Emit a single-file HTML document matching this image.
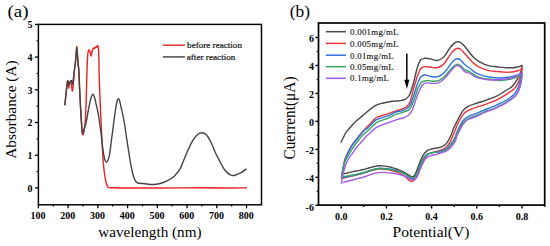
<!DOCTYPE html>
<html><head><meta charset="utf-8"><style>
html,body{margin:0;padding:0;background:#fff;width:550px;height:246px;overflow:hidden;}
svg{display:block;font-family:"Liberation Serif",serif;}
text{font-family:"Liberation Serif",serif;}
.r{fill:#111;stroke:#111;stroke-width:0.22px;}
.r2{fill:#111;stroke:#111;stroke-width:0.12px;}
</style></head><body>
<svg width="550" height="246" viewBox="0 0 550 246">
<rect width="550" height="246" fill="#fff"/>
<rect x="38.40" y="24.40" width="223.10" height="180.40" fill="none" stroke="#000" stroke-width="1.45"/>
<line x1="35.00" y1="187.90" x2="38.40" y2="187.90" stroke="#000" stroke-width="1.3"/>
<text x="32.50" y="191.80" font-size="10" font-weight="bold" text-anchor="end">0</text>
<line x1="35.00" y1="155.20" x2="38.40" y2="155.20" stroke="#000" stroke-width="1.3"/>
<text x="32.50" y="159.10" font-size="10" font-weight="bold" text-anchor="end">1</text>
<line x1="35.00" y1="122.50" x2="38.40" y2="122.50" stroke="#000" stroke-width="1.3"/>
<text x="32.50" y="126.40" font-size="10" font-weight="bold" text-anchor="end">2</text>
<line x1="35.00" y1="89.80" x2="38.40" y2="89.80" stroke="#000" stroke-width="1.3"/>
<text x="32.50" y="93.70" font-size="10" font-weight="bold" text-anchor="end">3</text>
<line x1="35.00" y1="57.10" x2="38.40" y2="57.10" stroke="#000" stroke-width="1.3"/>
<text x="32.50" y="61.00" font-size="10" font-weight="bold" text-anchor="end">4</text>
<line x1="35.00" y1="24.40" x2="38.40" y2="24.40" stroke="#000" stroke-width="1.3"/>
<text x="32.50" y="28.30" font-size="10" font-weight="bold" text-anchor="end">5</text>
<line x1="36.60" y1="171.55" x2="38.40" y2="171.55" stroke="#000" stroke-width="1.2"/>
<line x1="36.60" y1="138.85" x2="38.40" y2="138.85" stroke="#000" stroke-width="1.2"/>
<line x1="36.60" y1="106.15" x2="38.40" y2="106.15" stroke="#000" stroke-width="1.2"/>
<line x1="36.60" y1="73.45" x2="38.40" y2="73.45" stroke="#000" stroke-width="1.2"/>
<line x1="36.60" y1="40.75" x2="38.40" y2="40.75" stroke="#000" stroke-width="1.2"/>
<line x1="38.40" y1="204.80" x2="38.40" y2="208.30" stroke="#000" stroke-width="1.3"/>
<text x="38.10" y="218.60" font-size="10" font-weight="bold" text-anchor="middle">100</text>
<line x1="68.13" y1="204.80" x2="68.13" y2="208.30" stroke="#000" stroke-width="1.3"/>
<text x="67.83" y="218.60" font-size="10" font-weight="bold" text-anchor="middle">200</text>
<line x1="97.87" y1="204.80" x2="97.87" y2="208.30" stroke="#000" stroke-width="1.3"/>
<text x="97.57" y="218.60" font-size="10" font-weight="bold" text-anchor="middle">300</text>
<line x1="127.60" y1="204.80" x2="127.60" y2="208.30" stroke="#000" stroke-width="1.3"/>
<text x="127.30" y="218.60" font-size="10" font-weight="bold" text-anchor="middle">400</text>
<line x1="157.34" y1="204.80" x2="157.34" y2="208.30" stroke="#000" stroke-width="1.3"/>
<text x="157.04" y="218.60" font-size="10" font-weight="bold" text-anchor="middle">500</text>
<line x1="187.08" y1="204.80" x2="187.08" y2="208.30" stroke="#000" stroke-width="1.3"/>
<text x="186.78" y="218.60" font-size="10" font-weight="bold" text-anchor="middle">600</text>
<line x1="216.81" y1="204.80" x2="216.81" y2="208.30" stroke="#000" stroke-width="1.3"/>
<text x="216.51" y="218.60" font-size="10" font-weight="bold" text-anchor="middle">700</text>
<line x1="246.55" y1="204.80" x2="246.55" y2="208.30" stroke="#000" stroke-width="1.3"/>
<text x="246.25" y="218.60" font-size="10" font-weight="bold" text-anchor="middle">800</text>
<line x1="53.27" y1="204.80" x2="53.27" y2="206.40" stroke="#000" stroke-width="1.2"/>
<line x1="83.00" y1="204.80" x2="83.00" y2="206.40" stroke="#000" stroke-width="1.2"/>
<line x1="112.74" y1="204.80" x2="112.74" y2="206.40" stroke="#000" stroke-width="1.2"/>
<line x1="142.47" y1="204.80" x2="142.47" y2="206.40" stroke="#000" stroke-width="1.2"/>
<line x1="172.21" y1="204.80" x2="172.21" y2="206.40" stroke="#000" stroke-width="1.2"/>
<line x1="201.94" y1="204.80" x2="201.94" y2="206.40" stroke="#000" stroke-width="1.2"/>
<line x1="231.68" y1="204.80" x2="231.68" y2="206.40" stroke="#000" stroke-width="1.2"/>
<text transform="translate(18.07,17.19) scale(1.1916,1.0432)" font-size="16" font-weight="normal" text-anchor="middle" fill="#000">(a)</text>
<text transform="translate(149.89,236.54) scale(1.0135,1.0114)" font-size="15" font-weight="normal" text-anchor="middle" fill="#000">wavelength (nm)</text>
<text transform="translate(15.94,109.61) scale(1.0221,1.0230) rotate(-90)" font-size="15" font-weight="normal" text-anchor="middle" fill="#000">Absorbance (A)</text>
<line x1="162.9" y1="45.2" x2="184.9" y2="45.2" stroke="#ec2424" stroke-width="1.4"/>
<line x1="162.9" y1="56.9" x2="184.9" y2="56.9" stroke="#555" stroke-width="1.6"/>
<text transform="translate(214.51,48.30) scale(0.9815)" font-size="9.3" text-anchor="middle" class="r">before reaction</text>
<text transform="translate(211.09,59.60) scale(0.9896)" font-size="9.3" text-anchor="middle" class="r">after reaction</text>
<path d="M64.90,105.20 C65.10,103.17 65.65,97.03 66.10,93.00 C66.55,88.97 67.18,81.83 67.60,81.00 C68.02,80.17 68.28,87.67 68.60,88.00 C68.92,88.33 69.13,84.17 69.50,83.00 C69.87,81.83 70.45,80.50 70.80,81.00 C71.15,81.50 71.33,84.30 71.60,86.00 C71.87,87.70 72.12,91.37 72.40,91.20 C72.68,91.03 72.97,88.45 73.30,85.00 C73.63,81.55 74.10,73.75 74.40,70.50 C74.70,67.25 74.87,67.50 75.10,65.50 C75.33,63.50 75.59,60.83 75.80,58.50 C76.01,56.17 76.18,53.53 76.35,51.50 C76.52,49.47 76.65,46.30 76.80,46.30 C76.95,46.30 77.08,49.47 77.25,51.50 C77.42,53.53 77.61,56.08 77.80,58.50 C77.99,60.92 78.20,63.92 78.40,66.00 C78.60,68.08 78.80,67.20 79.00,71.00 C79.20,74.80 79.27,81.47 79.60,88.80 C79.93,96.13 80.53,107.50 81.00,115.00 C81.47,122.50 81.90,131.13 82.40,133.80 C82.90,136.47 83.48,133.63 84.00,131.00 C84.52,128.37 85.07,125.67 85.50,118.00 C85.93,110.33 86.28,94.67 86.60,85.00 C86.92,75.33 87.13,65.58 87.40,60.00 C87.67,54.42 87.85,53.15 88.20,51.50 C88.55,49.85 89.15,49.85 89.50,50.10 C89.85,50.35 90.02,52.03 90.30,53.00 C90.58,53.97 90.88,56.23 91.20,55.90 C91.52,55.57 91.92,52.17 92.20,51.00 C92.48,49.83 92.67,49.37 92.90,48.90 C93.13,48.43 93.38,48.25 93.60,48.20 C93.82,48.15 93.98,48.75 94.20,48.60 C94.42,48.45 94.67,47.43 94.90,47.30 C95.13,47.17 95.37,47.93 95.60,47.80 C95.83,47.67 96.08,46.65 96.30,46.50 C96.52,46.35 96.70,47.07 96.90,46.90 C97.10,46.73 97.28,45.48 97.50,45.50 C97.72,45.52 97.98,45.42 98.20,47.00 C98.42,48.58 98.62,49.50 98.80,55.00 C98.98,60.50 99.02,70.83 99.30,80.00 C99.58,89.17 100.02,99.17 100.50,110.00 C100.98,120.83 101.70,135.83 102.20,145.00 C102.70,154.17 103.03,159.67 103.50,165.00 C103.97,170.33 104.50,173.83 105.00,177.00 C105.50,180.17 105.95,182.28 106.50,184.00 C107.05,185.72 107.38,186.67 108.30,187.30 C109.22,187.93 108.38,187.68 112.00,187.80 C115.62,187.92 122.00,187.97 130.00,188.00 C138.00,188.03 148.33,188.03 160.00,188.00 C171.67,187.97 188.33,187.80 200.00,187.80 C211.67,187.80 222.20,188.00 230.00,188.00 C237.80,188.00 244.00,187.83 246.80,187.80" fill="none" stroke="#ec2222" stroke-width="1.4" stroke-linejoin="round"/>
<path d="M64.90,105.20 C65.10,103.17 65.65,97.03 66.10,93.00 C66.55,88.97 67.10,82.33 67.60,81.00 C68.10,79.67 68.65,84.92 69.10,85.00 C69.55,85.08 69.88,82.23 70.30,81.50 C70.72,80.77 71.22,80.18 71.60,80.60 C71.98,81.02 72.13,85.77 72.60,84.00 C73.07,82.23 73.98,73.17 74.40,70.00 C74.82,66.83 74.87,67.00 75.10,65.00 C75.33,63.00 75.59,60.25 75.80,58.00 C76.01,55.75 76.19,53.27 76.35,51.50 C76.51,49.73 76.62,47.40 76.75,47.40 C76.88,47.40 77.01,49.73 77.15,51.50 C77.29,53.27 77.44,55.75 77.60,58.00 C77.76,60.25 77.92,63.00 78.10,65.00 C78.28,67.00 78.45,66.03 78.70,70.00 C78.95,73.97 79.22,81.30 79.60,88.80 C79.98,96.30 80.53,107.63 81.00,115.00 C81.47,122.37 81.87,130.67 82.40,133.00 C82.93,135.33 83.65,130.50 84.20,129.00 C84.75,127.50 85.23,125.83 85.70,124.00 C86.17,122.17 86.58,120.17 87.00,118.00 C87.42,115.83 87.78,113.25 88.20,111.00 C88.62,108.75 89.03,106.67 89.50,104.50 C89.97,102.33 90.45,99.72 91.00,98.00 C91.55,96.28 92.20,94.28 92.80,94.20 C93.40,94.12 94.03,95.78 94.60,97.50 C95.17,99.22 95.63,102.02 96.20,104.50 C96.77,106.98 97.40,109.15 98.00,112.40 C98.60,115.65 99.22,119.90 99.80,124.00 C100.38,128.10 100.97,132.67 101.50,137.00 C102.03,141.33 102.50,146.42 103.00,150.00 C103.50,153.58 104.02,156.53 104.50,158.50 C104.98,160.47 105.40,161.38 105.90,161.80 C106.40,162.22 106.90,162.13 107.50,161.00 C108.10,159.87 108.75,159.17 109.50,155.00 C110.25,150.83 111.28,141.50 112.00,136.00 C112.72,130.50 113.20,126.50 113.80,122.00 C114.40,117.50 115.03,112.50 115.60,109.00 C116.17,105.50 116.75,102.73 117.20,101.00 C117.65,99.27 117.92,98.68 118.30,98.60 C118.68,98.52 119.00,98.93 119.50,100.50 C120.00,102.07 120.52,104.42 121.30,108.00 C122.08,111.58 123.32,117.00 124.20,122.00 C125.08,127.00 125.63,131.67 126.60,138.00 C127.57,144.33 129.10,154.58 130.00,160.00 C130.90,165.42 131.33,167.50 132.00,170.50 C132.67,173.50 133.25,176.05 134.00,178.00 C134.75,179.95 135.58,181.32 136.50,182.20 C137.42,183.08 138.42,183.08 139.50,183.30 C140.58,183.52 141.75,183.38 143.00,183.50 C144.25,183.62 145.40,183.83 147.00,184.00 C148.60,184.17 150.40,184.58 152.60,184.50 C154.80,184.42 157.65,184.18 160.20,183.50 C162.75,182.82 165.85,181.35 167.90,180.40 C169.95,179.45 171.23,178.72 172.50,177.80 C173.77,176.88 174.23,176.40 175.50,174.90 C176.77,173.40 178.83,170.98 180.10,168.80 C181.37,166.62 181.83,164.80 183.10,161.80 C184.37,158.80 186.17,154.22 187.70,150.80 C189.23,147.38 190.78,143.90 192.30,141.30 C193.82,138.70 195.28,136.62 196.80,135.20 C198.32,133.78 199.87,132.90 201.40,132.80 C202.93,132.70 204.48,133.18 206.00,134.60 C207.52,136.02 208.98,138.40 210.50,141.30 C212.02,144.20 213.57,148.68 215.10,152.00 C216.63,155.32 218.07,158.15 219.70,161.20 C221.33,164.25 223.12,168.02 224.90,170.30 C226.68,172.58 228.73,174.07 230.40,174.90 C232.07,175.73 233.13,175.68 234.90,175.30 C236.67,174.92 239.05,173.68 241.00,172.60 C242.95,171.52 245.67,169.43 246.60,168.80" fill="none" stroke="#444" stroke-width="1.4" stroke-linejoin="round"/>
<rect x="318.50" y="23.00" width="226.20" height="182.10" fill="none" stroke="#000" stroke-width="1.7"/>
<line x1="315.40" y1="205.28" x2="318.50" y2="205.28" stroke="#000" stroke-width="1.4"/>
<text x="313.90" y="210.90" font-size="10" font-weight="bold" text-anchor="end">-6</text>
<line x1="315.40" y1="177.32" x2="318.50" y2="177.32" stroke="#000" stroke-width="1.4"/>
<text x="313.90" y="182.12" font-size="10" font-weight="bold" text-anchor="end">-4</text>
<line x1="315.40" y1="149.36" x2="318.50" y2="149.36" stroke="#000" stroke-width="1.4"/>
<text x="313.90" y="154.16" font-size="10" font-weight="bold" text-anchor="end">-2</text>
<line x1="315.40" y1="121.40" x2="318.50" y2="121.40" stroke="#000" stroke-width="1.4"/>
<text x="313.90" y="126.20" font-size="10" font-weight="bold" text-anchor="end">0</text>
<line x1="315.40" y1="93.44" x2="318.50" y2="93.44" stroke="#000" stroke-width="1.4"/>
<text x="313.90" y="98.24" font-size="10" font-weight="bold" text-anchor="end">2</text>
<line x1="315.40" y1="65.48" x2="318.50" y2="65.48" stroke="#000" stroke-width="1.4"/>
<text x="313.90" y="70.28" font-size="10" font-weight="bold" text-anchor="end">4</text>
<line x1="315.40" y1="37.52" x2="318.50" y2="37.52" stroke="#000" stroke-width="1.4"/>
<text x="313.90" y="42.32" font-size="10" font-weight="bold" text-anchor="end">6</text>
<line x1="316.70" y1="191.30" x2="318.50" y2="191.30" stroke="#000" stroke-width="1.3"/>
<line x1="316.70" y1="163.34" x2="318.50" y2="163.34" stroke="#000" stroke-width="1.3"/>
<line x1="316.70" y1="135.38" x2="318.50" y2="135.38" stroke="#000" stroke-width="1.3"/>
<line x1="316.70" y1="107.42" x2="318.50" y2="107.42" stroke="#000" stroke-width="1.3"/>
<line x1="316.70" y1="79.46" x2="318.50" y2="79.46" stroke="#000" stroke-width="1.3"/>
<line x1="316.70" y1="51.50" x2="318.50" y2="51.50" stroke="#000" stroke-width="1.3"/>
<line x1="341.20" y1="205.10" x2="341.20" y2="208.50" stroke="#000" stroke-width="1.4"/>
<text x="341.20" y="219.50" font-size="10" font-weight="bold" text-anchor="middle">0.0</text>
<line x1="386.40" y1="205.10" x2="386.40" y2="208.50" stroke="#000" stroke-width="1.4"/>
<text x="386.40" y="219.50" font-size="10" font-weight="bold" text-anchor="middle">0.2</text>
<line x1="431.60" y1="205.10" x2="431.60" y2="208.50" stroke="#000" stroke-width="1.4"/>
<text x="431.60" y="219.50" font-size="10" font-weight="bold" text-anchor="middle">0.4</text>
<line x1="476.80" y1="205.10" x2="476.80" y2="208.50" stroke="#000" stroke-width="1.4"/>
<text x="476.80" y="219.50" font-size="10" font-weight="bold" text-anchor="middle">0.6</text>
<line x1="522.00" y1="205.10" x2="522.00" y2="208.50" stroke="#000" stroke-width="1.4"/>
<text x="522.00" y="219.50" font-size="10" font-weight="bold" text-anchor="middle">0.8</text>
<line x1="363.80" y1="205.10" x2="363.80" y2="206.90" stroke="#000" stroke-width="1.3"/>
<line x1="409.00" y1="205.10" x2="409.00" y2="206.90" stroke="#000" stroke-width="1.3"/>
<line x1="454.20" y1="205.10" x2="454.20" y2="206.90" stroke="#000" stroke-width="1.3"/>
<line x1="499.40" y1="205.10" x2="499.40" y2="206.90" stroke="#000" stroke-width="1.3"/>
<line x1="544.60" y1="205.10" x2="544.60" y2="206.90" stroke="#000" stroke-width="1.3"/>
<text transform="translate(299.79,17.25) scale(1.0868,1.0290)" font-size="16" font-weight="normal" text-anchor="middle" fill="#000">(b)</text>
<text transform="translate(431.01,236.74) scale(1.0374,1.0117)" font-size="15" font-weight="normal" text-anchor="middle" fill="#000">Potential(V)</text>
<text transform="translate(294.94,118.03) scale(1.0628,1.0208) rotate(-90)" font-size="15" font-weight="normal" text-anchor="middle" fill="#000">Cuerrent(μA)</text>
<line x1="325.8" y1="31.70" x2="345.9" y2="31.70" stroke="#474747" stroke-width="1.5"/>
<line x1="325.8" y1="43.40" x2="345.9" y2="43.40" stroke="#ec3237" stroke-width="1.5"/>
<line x1="325.8" y1="55.20" x2="345.9" y2="55.20" stroke="#2e73dc" stroke-width="1.5"/>
<line x1="325.8" y1="66.70" x2="345.9" y2="66.70" stroke="#36a463" stroke-width="1.5"/>
<line x1="325.8" y1="78.30" x2="345.9" y2="78.30" stroke="#a25ae6" stroke-width="1.5"/>
<text x="350.0" y="35.10" font-size="8.8" letter-spacing="0.3" class="r2">0.001mg/mL</text>
<text x="350.0" y="46.95" font-size="8.8" letter-spacing="0.3" class="r2">0.005mg/mL</text>
<text x="350.0" y="58.50" font-size="8.8" letter-spacing="0.3" class="r2">0.01mg/mL</text>
<text x="350.0" y="69.90" font-size="8.8" letter-spacing="0.3" class="r2">0.05mg/mL</text>
<text x="350.0" y="81.15" font-size="8.8" letter-spacing="0.3" class="r2">0.1mg/mL</text>
<line x1="406.8" y1="53.6" x2="406.8" y2="81" stroke="#000" stroke-width="1.5"/>
<path d="M404.3,79.8 L409.4,79.8 L406.85,89 Z" fill="#000"/>
<path d="M341.00,142.20 C341.42,141.38 342.78,138.75 343.50,137.30 C344.22,135.85 344.58,134.67 345.30,133.50 C346.02,132.33 346.77,131.55 347.80,130.30 C348.83,129.05 350.28,127.38 351.50,126.00 C352.72,124.62 353.28,123.68 355.10,122.00 C356.92,120.32 359.97,117.93 362.40,115.90 C364.83,113.87 367.47,111.55 369.70,109.80 C371.93,108.05 373.72,106.48 375.80,105.40 C377.88,104.32 379.43,103.98 382.20,103.30 C384.97,102.62 390.10,101.67 392.40,101.30 C394.70,100.93 394.58,101.22 396.00,101.10 C397.42,100.98 399.38,100.88 400.90,100.60 C402.42,100.32 403.88,100.02 405.10,99.40 C406.32,98.78 407.38,97.82 408.20,96.90 C409.02,95.98 409.50,94.95 410.00,93.90 C410.50,92.85 410.88,91.55 411.20,90.60 C411.52,89.65 411.48,89.60 411.90,88.20 C412.32,86.80 413.18,84.10 413.70,82.20 C414.22,80.30 414.53,78.75 415.00,76.80 C415.47,74.85 415.95,72.53 416.50,70.50 C417.05,68.47 417.60,66.38 418.30,64.60 C419.00,62.82 419.68,60.85 420.70,59.80 C421.72,58.75 423.18,58.52 424.40,58.30 C425.62,58.08 426.72,58.32 428.00,58.50 C429.28,58.68 430.40,59.08 432.10,59.40 C433.80,59.72 436.17,60.90 438.20,60.40 C440.23,59.90 442.27,58.60 444.30,56.40 C446.33,54.20 448.70,49.42 450.40,47.20 C452.10,44.98 453.32,44.02 454.50,43.10 C455.68,42.18 456.48,41.80 457.50,41.70 C458.52,41.60 459.42,41.75 460.60,42.50 C461.78,43.25 463.03,44.42 464.60,46.20 C466.17,47.98 468.37,51.22 470.00,53.20 C471.63,55.18 472.93,56.73 474.40,58.10 C475.87,59.47 477.10,60.37 478.80,61.40 C480.50,62.43 482.65,63.52 484.60,64.30 C486.55,65.08 488.27,65.65 490.50,66.10 C492.73,66.55 495.73,66.75 498.00,67.00 C500.27,67.25 502.07,67.47 504.10,67.60 C506.13,67.73 508.17,67.87 510.20,67.80 C512.23,67.73 514.67,67.43 516.30,67.20 C517.93,66.97 519.03,66.68 520.00,66.40 C520.97,66.12 521.75,65.65 522.10,65.50 M522.10,65.50 C521.95,66.35 521.77,68.73 521.20,70.60 C520.63,72.47 519.65,74.80 518.70,76.70 C517.75,78.60 516.62,80.37 515.50,82.00 C514.38,83.63 512.92,85.50 512.00,86.50 C511.08,87.50 511.20,87.22 510.00,88.00 C508.80,88.78 506.53,90.12 504.80,91.20 C503.07,92.28 501.33,93.52 499.60,94.50 C497.87,95.48 496.13,96.35 494.40,97.10 C492.67,97.85 490.93,98.35 489.20,99.00 C487.47,99.65 486.15,100.28 484.00,101.00 C481.85,101.72 478.93,102.42 476.30,103.30 C473.67,104.18 470.40,105.12 468.20,106.30 C466.00,107.48 464.45,108.88 463.10,110.40 C461.75,111.92 461.12,113.55 460.10,115.40 C459.08,117.25 458.08,119.37 457.00,121.50 C455.92,123.63 454.67,125.73 453.60,128.20 C452.53,130.67 451.78,133.77 450.60,136.30 C449.42,138.83 448.03,141.63 446.50,143.40 C444.97,145.17 443.10,146.13 441.40,146.90 C439.70,147.67 438.00,147.62 436.30,148.00 C434.60,148.38 432.70,148.77 431.20,149.20 C429.70,149.63 428.47,149.85 427.30,150.60 C426.13,151.35 425.10,152.53 424.20,153.70 C423.30,154.87 422.67,156.05 421.90,157.60 C421.13,159.15 420.37,161.07 419.60,163.00 C418.83,164.93 418.07,167.27 417.30,169.20 C416.53,171.13 415.78,173.32 415.00,174.60 C414.22,175.88 413.38,176.65 412.60,176.90 C411.82,177.15 411.07,176.48 410.30,176.10 C409.53,175.72 408.80,175.12 408.00,174.60 C407.20,174.08 406.33,173.50 405.50,173.00 C404.67,172.50 404.08,172.12 403.00,171.60 C401.92,171.08 400.35,170.42 399.00,169.90 C397.65,169.38 396.27,168.95 394.90,168.50 C393.53,168.05 392.15,167.55 390.80,167.20 C389.45,166.85 388.15,166.62 386.80,166.40 C385.45,166.18 384.07,166.00 382.70,165.90 C381.33,165.80 379.97,165.70 378.60,165.80 C377.23,165.90 375.85,166.22 374.50,166.50 C373.15,166.78 371.75,167.17 370.50,167.50 C369.25,167.83 368.18,168.17 367.00,168.50 C365.82,168.83 364.85,169.15 363.40,169.50 C361.95,169.85 360.00,170.25 358.30,170.60 C356.60,170.95 354.83,171.25 353.20,171.60 C351.57,171.95 350.05,172.33 348.50,172.70 C346.95,173.07 344.67,173.62 343.90,173.80" fill="none" stroke="#474747" stroke-width="1.4" stroke-linejoin="round" stroke-linecap="round"/>
<path d="M341.50,178.50 C341.65,177.42 342.07,174.00 342.40,172.00 C342.73,170.00 343.12,168.50 343.50,166.50 C343.88,164.50 344.02,162.25 344.70,160.00 C345.38,157.75 346.52,155.28 347.60,153.00 C348.68,150.72 349.78,148.53 351.20,146.30 C352.62,144.07 354.47,141.73 356.10,139.60 C357.73,137.47 359.35,135.43 361.00,133.50 C362.65,131.57 364.50,129.58 366.00,128.00 C367.50,126.42 368.32,125.70 370.00,124.00 C371.68,122.30 374.10,119.22 376.10,117.80 C378.10,116.38 379.97,116.18 382.00,115.50 C384.03,114.82 385.97,114.47 388.30,113.70 C390.63,112.93 393.90,111.60 396.00,110.90 C398.10,110.20 399.27,110.13 400.90,109.50 C402.53,108.87 404.48,108.00 405.80,107.10 C407.12,106.20 408.00,105.22 408.80,104.10 C409.60,102.98 410.08,101.83 410.60,100.40 C411.12,98.97 411.48,97.13 411.90,95.50 C412.32,93.87 412.77,91.93 413.10,90.60 C413.43,89.27 413.50,88.90 413.90,87.50 C414.30,86.10 414.97,83.95 415.50,82.20 C416.03,80.45 416.43,78.92 417.10,77.00 C417.77,75.08 418.68,72.27 419.50,70.70 C420.32,69.13 420.98,68.28 422.00,67.60 C423.02,66.92 423.92,66.62 425.60,66.60 C427.28,66.58 430.00,67.35 432.10,67.50 C434.20,67.65 436.17,68.17 438.20,67.50 C440.23,66.83 442.27,65.70 444.30,63.50 C446.33,61.30 448.70,56.57 450.40,54.30 C452.10,52.03 453.32,50.92 454.50,49.90 C455.68,48.88 456.48,48.32 457.50,48.20 C458.52,48.08 459.42,48.35 460.60,49.20 C461.78,50.05 463.03,51.58 464.60,53.30 C466.17,55.02 468.37,57.73 470.00,59.50 C471.63,61.27 472.93,62.68 474.40,63.90 C475.87,65.12 477.10,65.90 478.80,66.80 C480.50,67.70 482.65,68.62 484.60,69.30 C486.55,69.98 488.27,70.52 490.50,70.90 C492.73,71.28 495.73,71.40 498.00,71.60 C500.27,71.80 502.07,72.02 504.10,72.10 C506.13,72.18 508.17,72.25 510.20,72.10 C512.23,71.95 514.67,71.55 516.30,71.20 C517.93,70.85 519.03,70.50 520.00,70.00 C520.97,69.50 521.75,68.50 522.10,68.20 M522.10,68.20 C522.05,68.82 522.15,70.27 521.80,71.90 C521.45,73.53 520.70,76.00 520.00,78.00 C519.30,80.00 518.52,82.13 517.60,83.90 C516.68,85.67 515.77,87.27 514.50,88.60 C513.23,89.93 511.62,90.77 510.00,91.90 C508.38,93.03 506.53,94.32 504.80,95.40 C503.07,96.48 501.33,97.47 499.60,98.40 C497.87,99.33 496.13,100.25 494.40,101.00 C492.67,101.75 490.93,102.25 489.20,102.90 C487.47,103.55 486.15,104.17 484.00,104.90 C481.85,105.63 478.93,106.38 476.30,107.30 C473.67,108.22 470.40,109.22 468.20,110.40 C466.00,111.58 464.45,112.88 463.10,114.40 C461.75,115.92 461.12,117.63 460.10,119.50 C459.08,121.37 458.08,123.18 457.00,125.60 C455.92,128.02 454.85,131.07 453.60,134.00 C452.35,136.93 451.02,140.78 449.50,143.20 C447.98,145.62 446.18,147.27 444.50,148.50 C442.82,149.73 441.10,150.05 439.40,150.60 C437.70,151.15 436.17,151.20 434.30,151.80 C432.43,152.40 429.90,153.08 428.20,154.20 C426.50,155.32 425.22,156.87 424.10,158.50 C422.98,160.13 422.30,162.08 421.50,164.00 C420.70,165.92 420.05,168.00 419.30,170.00 C418.55,172.00 417.75,174.42 417.00,176.00 C416.25,177.58 415.58,178.62 414.80,179.50 C414.02,180.38 413.12,181.07 412.30,181.30 C411.48,181.53 410.70,181.32 409.90,180.90 C409.10,180.48 408.32,179.53 407.50,178.80 C406.68,178.07 405.75,177.13 405.00,176.50 C404.25,175.87 404.00,175.62 403.00,175.00 C402.00,174.38 400.35,173.38 399.00,172.80 C397.65,172.22 396.27,171.90 394.90,171.50 C393.53,171.10 392.15,170.72 390.80,170.40 C389.45,170.08 388.15,169.82 386.80,169.60 C385.45,169.38 384.07,169.20 382.70,169.10 C381.33,169.00 379.97,168.90 378.60,169.00 C377.23,169.10 375.85,169.38 374.50,169.70 C373.15,170.02 371.75,170.52 370.50,170.90 C369.25,171.28 368.18,171.62 367.00,172.00 C365.82,172.38 364.85,172.78 363.40,173.20 C361.95,173.62 360.00,174.08 358.30,174.50 C356.60,174.92 354.83,175.32 353.20,175.70 C351.57,176.08 350.15,176.42 348.50,176.80 C346.85,177.18 344.17,177.80 343.30,178.00" fill="none" stroke="#ec3237" stroke-width="1.4" stroke-linejoin="round" stroke-linecap="round"/>
<path d="M341.50,178.30 C341.65,177.22 342.07,173.80 342.40,171.80 C342.73,169.80 343.08,168.27 343.50,166.30 C343.92,164.33 344.18,162.18 344.90,160.00 C345.62,157.82 346.72,155.45 347.80,153.20 C348.88,150.95 349.98,148.73 351.40,146.50 C352.82,144.27 354.67,141.93 356.30,139.80 C357.93,137.67 359.78,135.33 361.20,133.70 C362.62,132.07 363.67,131.00 364.80,130.00 C365.93,129.00 366.12,129.40 368.00,127.70 C369.88,126.00 372.72,121.80 376.10,119.80 C379.48,117.80 384.98,117.00 388.30,115.70 C391.62,114.40 393.70,112.82 396.00,112.00 C398.30,111.18 400.27,111.42 402.10,110.80 C403.93,110.18 405.68,109.22 407.00,108.30 C408.32,107.38 409.18,106.52 410.00,105.30 C410.82,104.08 411.28,102.63 411.90,101.00 C412.52,99.37 413.10,97.33 413.70,95.50 C414.30,93.67 415.03,91.50 415.50,90.00 C415.97,88.50 416.07,87.80 416.50,86.50 C416.93,85.20 417.40,83.78 418.10,82.20 C418.80,80.62 419.65,78.20 420.70,77.00 C421.75,75.80 423.18,75.23 424.40,75.00 C425.62,74.77 426.72,75.32 428.00,75.60 C429.28,75.88 430.40,76.52 432.10,76.70 C433.80,76.88 436.17,77.38 438.20,76.70 C440.23,76.02 442.27,74.63 444.30,72.60 C446.33,70.57 448.70,66.60 450.40,64.50 C452.10,62.40 453.32,60.95 454.50,60.00 C455.68,59.05 456.48,58.80 457.50,58.80 C458.52,58.80 459.42,59.05 460.60,60.00 C461.78,60.95 463.03,63.12 464.60,64.50 C466.17,65.88 468.37,67.05 470.00,68.30 C471.63,69.55 472.93,71.02 474.40,72.00 C475.87,72.98 477.10,73.52 478.80,74.20 C480.50,74.88 482.65,75.60 484.60,76.10 C486.55,76.60 488.27,76.88 490.50,77.20 C492.73,77.52 495.73,77.92 498.00,78.00 C500.27,78.08 502.07,77.87 504.10,77.70 C506.13,77.53 508.17,77.37 510.20,77.00 C512.23,76.63 514.57,76.05 516.30,75.50 C518.03,74.95 519.72,74.12 520.60,73.70 C521.48,73.28 521.43,73.12 521.60,73.00 M521.60,73.00 C521.53,73.58 521.37,75.38 521.20,76.50 C521.03,77.62 521.00,78.15 520.60,79.70 C520.20,81.25 519.50,83.92 518.80,85.80 C518.10,87.68 517.20,89.55 516.40,91.00 C515.60,92.45 515.07,93.38 514.00,94.50 C512.93,95.62 511.53,96.62 510.00,97.70 C508.47,98.78 506.53,100.02 504.80,101.00 C503.07,101.98 501.33,102.73 499.60,103.60 C497.87,104.47 496.13,105.45 494.40,106.20 C492.67,106.95 490.93,107.45 489.20,108.10 C487.47,108.75 486.15,109.22 484.00,110.10 C481.85,110.98 478.93,112.33 476.30,113.40 C473.67,114.47 470.40,115.32 468.20,116.50 C466.00,117.68 464.45,118.98 463.10,120.50 C461.75,122.02 461.12,123.73 460.10,125.60 C459.08,127.47 457.92,129.57 457.00,131.70 C456.08,133.83 455.67,136.27 454.60,138.40 C453.53,140.53 452.12,142.68 450.60,144.50 C449.08,146.32 447.37,148.17 445.50,149.30 C443.63,150.43 441.27,150.78 439.40,151.30 C437.53,151.82 435.67,152.12 434.30,152.40 C432.93,152.68 432.37,152.70 431.20,153.00 C430.03,153.30 428.47,153.50 427.30,154.20 C426.13,154.90 425.10,156.07 424.20,157.20 C423.30,158.33 422.67,159.47 421.90,161.00 C421.13,162.53 420.37,164.60 419.60,166.40 C418.83,168.20 418.07,170.12 417.30,171.80 C416.53,173.48 415.78,175.42 415.00,176.50 C414.22,177.58 413.43,178.12 412.60,178.30 C411.77,178.48 410.77,177.98 410.00,177.60 C409.23,177.22 408.75,176.55 408.00,176.00 C407.25,175.45 406.33,174.85 405.50,174.30 C404.67,173.75 404.08,173.20 403.00,172.70 C401.92,172.20 400.35,171.72 399.00,171.30 C397.65,170.88 396.27,170.53 394.90,170.20 C393.53,169.87 392.15,169.53 390.80,169.30 C389.45,169.07 388.15,168.93 386.80,168.80 C385.45,168.67 384.07,168.55 382.70,168.50 C381.33,168.45 379.97,168.37 378.60,168.50 C377.23,168.63 375.85,168.95 374.50,169.30 C373.15,169.65 371.75,170.18 370.50,170.60 C369.25,171.02 368.18,171.40 367.00,171.80 C365.82,172.20 364.85,172.58 363.40,173.00 C361.95,173.42 360.00,173.88 358.30,174.30 C356.60,174.72 354.83,175.13 353.20,175.50 C351.57,175.87 350.15,176.15 348.50,176.50 C346.85,176.85 344.17,177.42 343.30,177.60" fill="none" stroke="#2e73dc" stroke-width="1.4" stroke-linejoin="round" stroke-linecap="round"/>
<path d="M341.50,178.30 C341.65,177.25 342.07,173.97 342.40,172.00 C342.73,170.03 342.93,168.50 343.50,166.50 C344.07,164.50 344.78,162.22 345.80,160.00 C346.82,157.78 348.25,155.45 349.60,153.20 C350.95,150.95 352.38,148.73 353.90,146.50 C355.42,144.27 357.08,141.83 358.70,139.80 C360.32,137.77 362.17,135.73 363.60,134.30 C365.03,132.87 366.23,132.12 367.30,131.20 C368.37,130.28 368.53,130.20 370.00,128.80 C371.47,127.40 373.05,124.60 376.10,122.80 C379.15,121.00 384.98,119.40 388.30,118.00 C391.62,116.60 393.70,115.30 396.00,114.40 C398.30,113.50 400.07,113.30 402.10,112.60 C404.13,111.90 406.68,111.22 408.20,110.20 C409.72,109.18 410.38,107.83 411.20,106.50 C412.02,105.17 412.48,103.73 413.10,102.20 C413.72,100.67 414.30,99.02 414.90,97.30 C415.50,95.58 416.22,93.37 416.70,91.90 C417.18,90.43 417.37,89.50 417.80,88.50 C418.23,87.50 418.77,86.88 419.30,85.90 C419.83,84.92 420.22,83.38 421.00,82.60 C421.78,81.82 422.83,81.55 424.00,81.20 C425.17,80.85 426.65,80.50 428.00,80.50 C429.35,80.50 430.40,81.17 432.10,81.20 C433.80,81.23 436.17,81.45 438.20,80.70 C440.23,79.95 442.27,78.55 444.30,76.70 C446.33,74.85 448.70,71.47 450.40,69.60 C452.10,67.73 453.32,66.42 454.50,65.50 C455.68,64.58 456.48,64.10 457.50,64.10 C458.52,64.10 459.42,64.58 460.60,65.50 C461.78,66.42 463.03,68.52 464.60,69.60 C466.17,70.68 468.37,71.12 470.00,72.00 C471.63,72.88 472.93,74.05 474.40,74.90 C475.87,75.75 477.10,76.48 478.80,77.10 C480.50,77.72 482.65,78.23 484.60,78.60 C486.55,78.97 488.27,79.00 490.50,79.30 C492.73,79.60 495.73,80.27 498.00,80.40 C500.27,80.53 502.07,80.27 504.10,80.10 C506.13,79.93 508.17,79.87 510.20,79.40 C512.23,78.93 514.57,77.95 516.30,77.30 C518.03,76.65 519.68,75.97 520.60,75.50 C521.52,75.03 521.60,74.67 521.80,74.50 M521.80,74.50 C521.80,75.00 521.87,76.50 521.80,77.50 C521.73,78.50 521.70,79.00 521.40,80.50 C521.10,82.00 520.57,84.58 520.00,86.50 C519.43,88.42 518.83,90.33 518.00,92.00 C517.17,93.67 516.33,95.20 515.00,96.50 C513.67,97.80 511.70,98.70 510.00,99.80 C508.30,100.90 506.53,102.12 504.80,103.10 C503.07,104.08 501.33,104.83 499.60,105.70 C497.87,106.57 496.13,107.55 494.40,108.30 C492.67,109.05 490.93,109.60 489.20,110.20 C487.47,110.80 486.15,111.03 484.00,111.90 C481.85,112.77 478.93,114.30 476.30,115.40 C473.67,116.50 470.40,117.30 468.20,118.50 C466.00,119.70 464.45,121.08 463.10,122.60 C461.75,124.12 461.12,125.87 460.10,127.60 C459.08,129.33 457.92,131.02 457.00,133.00 C456.08,134.98 455.67,137.42 454.60,139.50 C453.53,141.58 452.12,143.68 450.60,145.50 C449.08,147.32 447.37,149.28 445.50,150.40 C443.63,151.52 440.98,151.92 439.40,152.20 C437.82,152.48 437.37,151.97 436.00,152.10 C434.63,152.23 432.65,152.60 431.20,153.00 C429.75,153.40 428.47,153.73 427.30,154.50 C426.13,155.27 425.10,156.43 424.20,157.60 C423.30,158.77 422.67,159.95 421.90,161.50 C421.13,163.05 420.37,165.10 419.60,166.90 C418.83,168.70 418.07,170.63 417.30,172.30 C416.53,173.97 415.78,175.87 415.00,176.90 C414.22,177.93 413.43,178.40 412.60,178.50 C411.77,178.60 410.77,177.90 410.00,177.50 C409.23,177.10 408.75,176.60 408.00,176.10 C407.25,175.60 406.33,175.02 405.50,174.50 C404.67,173.98 404.08,173.48 403.00,173.00 C401.92,172.52 400.35,172.00 399.00,171.60 C397.65,171.20 396.27,170.93 394.90,170.60 C393.53,170.27 392.15,169.87 390.80,169.60 C389.45,169.33 388.15,169.17 386.80,169.00 C385.45,168.83 384.07,168.68 382.70,168.60 C381.33,168.52 379.97,168.40 378.60,168.50 C377.23,168.60 375.85,168.90 374.50,169.20 C373.15,169.50 371.75,169.93 370.50,170.30 C369.25,170.67 368.18,171.03 367.00,171.40 C365.82,171.77 364.85,172.10 363.40,172.50 C361.95,172.90 360.00,173.38 358.30,173.80 C356.60,174.22 354.83,174.67 353.20,175.00 C351.57,175.33 350.15,175.53 348.50,175.80 C346.85,176.07 344.17,176.47 343.30,176.60" fill="none" stroke="#36a463" stroke-width="1.4" stroke-linejoin="round" stroke-linecap="round"/>
<path d="M341.50,183.20 C341.63,182.33 342.00,179.70 342.30,178.00 C342.60,176.30 342.88,174.75 343.30,173.00 C343.72,171.25 344.27,169.17 344.80,167.50 C345.33,165.83 345.70,164.75 346.50,163.00 C347.30,161.25 348.58,158.63 349.60,157.00 C350.62,155.37 351.48,154.75 352.60,153.20 C353.72,151.65 354.87,149.53 356.30,147.70 C357.73,145.87 359.68,143.93 361.20,142.20 C362.72,140.47 364.27,138.53 365.40,137.30 C366.53,136.07 366.22,136.40 368.00,134.80 C369.78,133.20 372.72,129.73 376.10,127.70 C379.48,125.67 384.57,124.03 388.30,122.60 C392.03,121.17 396.00,119.87 398.50,119.10 C401.00,118.33 401.68,118.60 403.30,118.00 C404.92,117.40 406.88,116.52 408.20,115.50 C409.52,114.48 410.38,113.22 411.20,111.90 C412.02,110.58 412.48,109.13 413.10,107.60 C413.72,106.07 414.30,104.43 414.90,102.70 C415.50,100.97 416.00,99.10 416.70,97.20 C417.40,95.30 418.25,93.18 419.10,91.30 C419.95,89.42 420.98,87.17 421.80,85.90 C422.62,84.63 423.15,84.20 424.00,83.70 C424.85,83.20 425.55,82.95 426.90,82.90 C428.25,82.85 430.22,83.42 432.10,83.40 C433.98,83.38 436.17,83.58 438.20,82.80 C440.23,82.02 442.27,80.57 444.30,78.70 C446.33,76.83 448.70,73.57 450.40,71.60 C452.10,69.63 453.32,67.92 454.50,66.90 C455.68,65.88 456.48,65.50 457.50,65.50 C458.52,65.50 459.42,65.88 460.60,66.90 C461.78,67.92 463.03,70.52 464.60,71.60 C466.17,72.68 468.37,72.60 470.00,73.40 C471.63,74.20 472.93,75.62 474.40,76.40 C475.87,77.18 477.10,77.62 478.80,78.10 C480.50,78.58 482.65,78.98 484.60,79.30 C486.55,79.62 488.27,79.92 490.50,80.00 C492.73,80.08 495.73,79.93 498.00,79.80 C500.27,79.67 502.07,79.50 504.10,79.20 C506.13,78.90 508.17,78.52 510.20,78.00 C512.23,77.48 514.47,76.92 516.30,76.10 C518.13,75.28 520.22,73.62 521.20,73.10 C522.18,72.58 522.03,73.02 522.20,73.00 M522.20,73.00 C522.13,73.58 521.97,75.25 521.80,76.50 C521.63,77.75 521.55,78.65 521.20,80.50 C520.85,82.35 520.30,85.60 519.70,87.60 C519.10,89.60 518.55,90.92 517.60,92.50 C516.65,94.08 515.27,95.80 514.00,97.10 C512.73,98.40 511.53,99.22 510.00,100.30 C508.47,101.38 506.53,102.62 504.80,103.60 C503.07,104.58 501.33,105.33 499.60,106.20 C497.87,107.07 496.13,108.05 494.40,108.80 C492.67,109.55 490.93,110.05 489.20,110.70 C487.47,111.35 486.15,111.73 484.00,112.70 C481.85,113.67 478.93,115.37 476.30,116.50 C473.67,117.63 470.40,118.22 468.20,119.50 C466.00,120.78 464.45,122.50 463.10,124.20 C461.75,125.90 461.12,127.77 460.10,129.70 C459.08,131.63 457.75,134.02 457.00,135.80 C456.25,137.58 456.50,138.62 455.60,140.40 C454.70,142.18 453.12,144.73 451.60,146.50 C450.08,148.27 448.37,149.92 446.50,151.00 C444.63,152.08 442.15,152.42 440.40,153.00 C438.65,153.58 437.53,154.07 436.00,154.50 C434.47,154.93 432.65,155.17 431.20,155.60 C429.75,156.03 428.47,156.25 427.30,157.10 C426.13,157.95 425.10,159.33 424.20,160.70 C423.30,162.07 422.67,163.63 421.90,165.30 C421.13,166.97 420.37,168.90 419.60,170.70 C418.83,172.50 418.07,174.68 417.30,176.10 C416.53,177.52 415.78,178.60 415.00,179.20 C414.22,179.80 413.43,179.73 412.60,179.70 C411.77,179.67 410.77,179.33 410.00,179.00 C409.23,178.67 408.75,178.12 408.00,177.70 C407.25,177.28 406.33,176.85 405.50,176.50 C404.67,176.15 404.08,175.95 403.00,175.60 C401.92,175.25 400.35,174.73 399.00,174.40 C397.65,174.07 396.27,173.83 394.90,173.60 C393.53,173.37 392.15,173.17 390.80,173.00 C389.45,172.83 388.15,172.70 386.80,172.60 C385.45,172.50 384.07,172.40 382.70,172.40 C381.33,172.40 379.97,172.43 378.60,172.60 C377.23,172.77 375.85,173.07 374.50,173.40 C373.15,173.73 371.75,174.20 370.50,174.60 C369.25,175.00 368.18,175.38 367.00,175.80 C365.82,176.22 364.85,176.67 363.40,177.10 C361.95,177.53 360.00,177.97 358.30,178.40 C356.60,178.83 354.83,179.27 353.20,179.70 C351.57,180.13 350.15,180.52 348.50,181.00 C346.85,181.48 344.17,182.33 343.30,182.60" fill="none" stroke="#a25ae6" stroke-width="1.4" stroke-linejoin="round" stroke-linecap="round"/>
</svg>
</body></html>
